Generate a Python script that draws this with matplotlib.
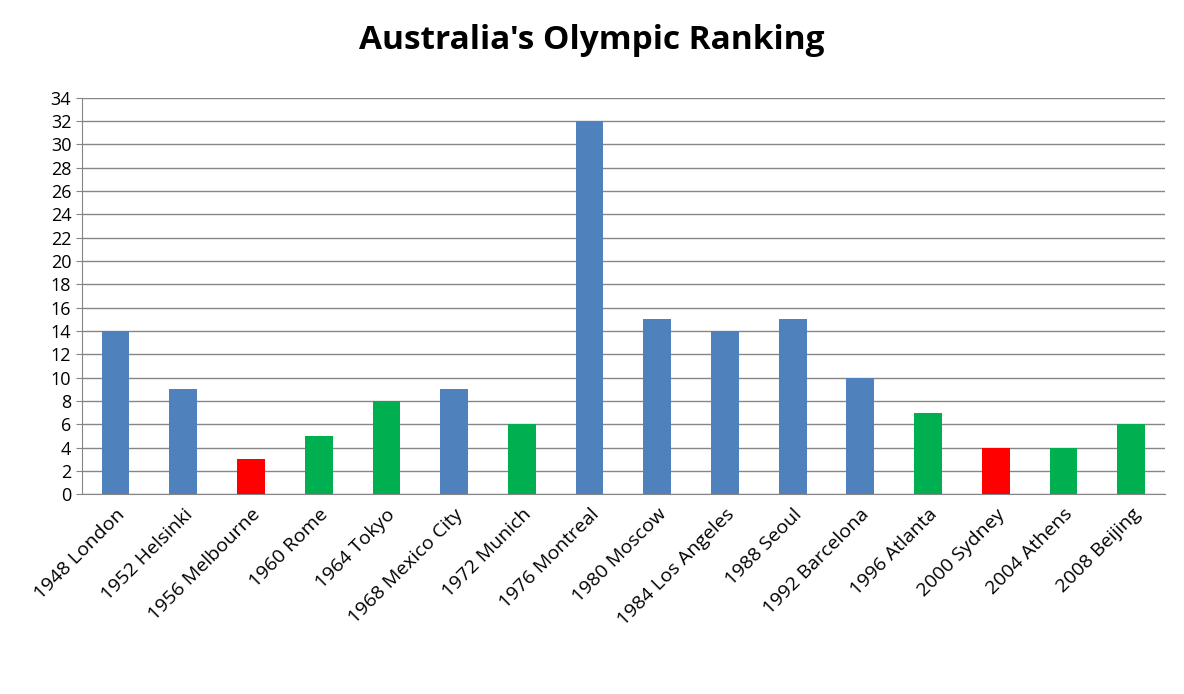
import matplotlib
matplotlib.use('Agg')
import matplotlib.pyplot as plt
import numpy as np

games = ["1948 London", "1952 Helsinki", "1956 Melbourne", "1960 Rome", "1964 Tokyo",
         "1968 Mexico City", "1972 Munich", "1976 Montreal", "1980 Moscow",
         "1984 Los Angeles", "1988 Seoul", "1992 Barcelona", "1996 Atlanta",
         "2000 Sydney", "2004 Athens", "2008 Beijing"]
ranking = [14, 9, 3, 5, 8, 9, 6, 32, 15, 14, 15, 10, 7, 4, 4, 6]
group = ["b", "b", "r", "g", "g", "b", "g", "b", "b", "b", "b", "b", "g", "r", "g", "g"]

palette = {"b": "#4F81BD", "g": "#00B050", "r": "#FF0000"}
plt.rcParams['font.family'] = ['Open Sans', 'DejaVu Sans']

fig = plt.figure(figsize=(11.84, 6.94), dpi=100)
ax = fig.add_axes([0.069, 0.288, 0.915, 0.571])

x = np.arange(len(games))
ax.bar(x, ranking, width=0.41, color=[palette[g] for g in group], zorder=3)

ax.set_xlim(-0.5, len(games) - 0.5)
ax.set_ylim(0, 34)
ax.set_yticks(range(0, 35, 2))
ax.yaxis.grid(True, color="#868686", linewidth=1, zorder=0)
ax.set_xticks(x)
ax.set_xticklabels(games, rotation=45, ha="right", rotation_mode="anchor", fontsize=14)
ax.tick_params(axis="y", labelsize=13, length=4, color="#868686")
ax.tick_params(axis="x", length=0, pad=8)
for s in ["top", "right"]:
    ax.spines[s].set_visible(False)
for s in ["left", "bottom"]:
    ax.spines[s].set_color("#868686")

fig.suptitle("Australia's Olympic Ranking", fontsize=24, fontweight="bold", y=0.965)

fig.savefig("out.png", dpi=100)
